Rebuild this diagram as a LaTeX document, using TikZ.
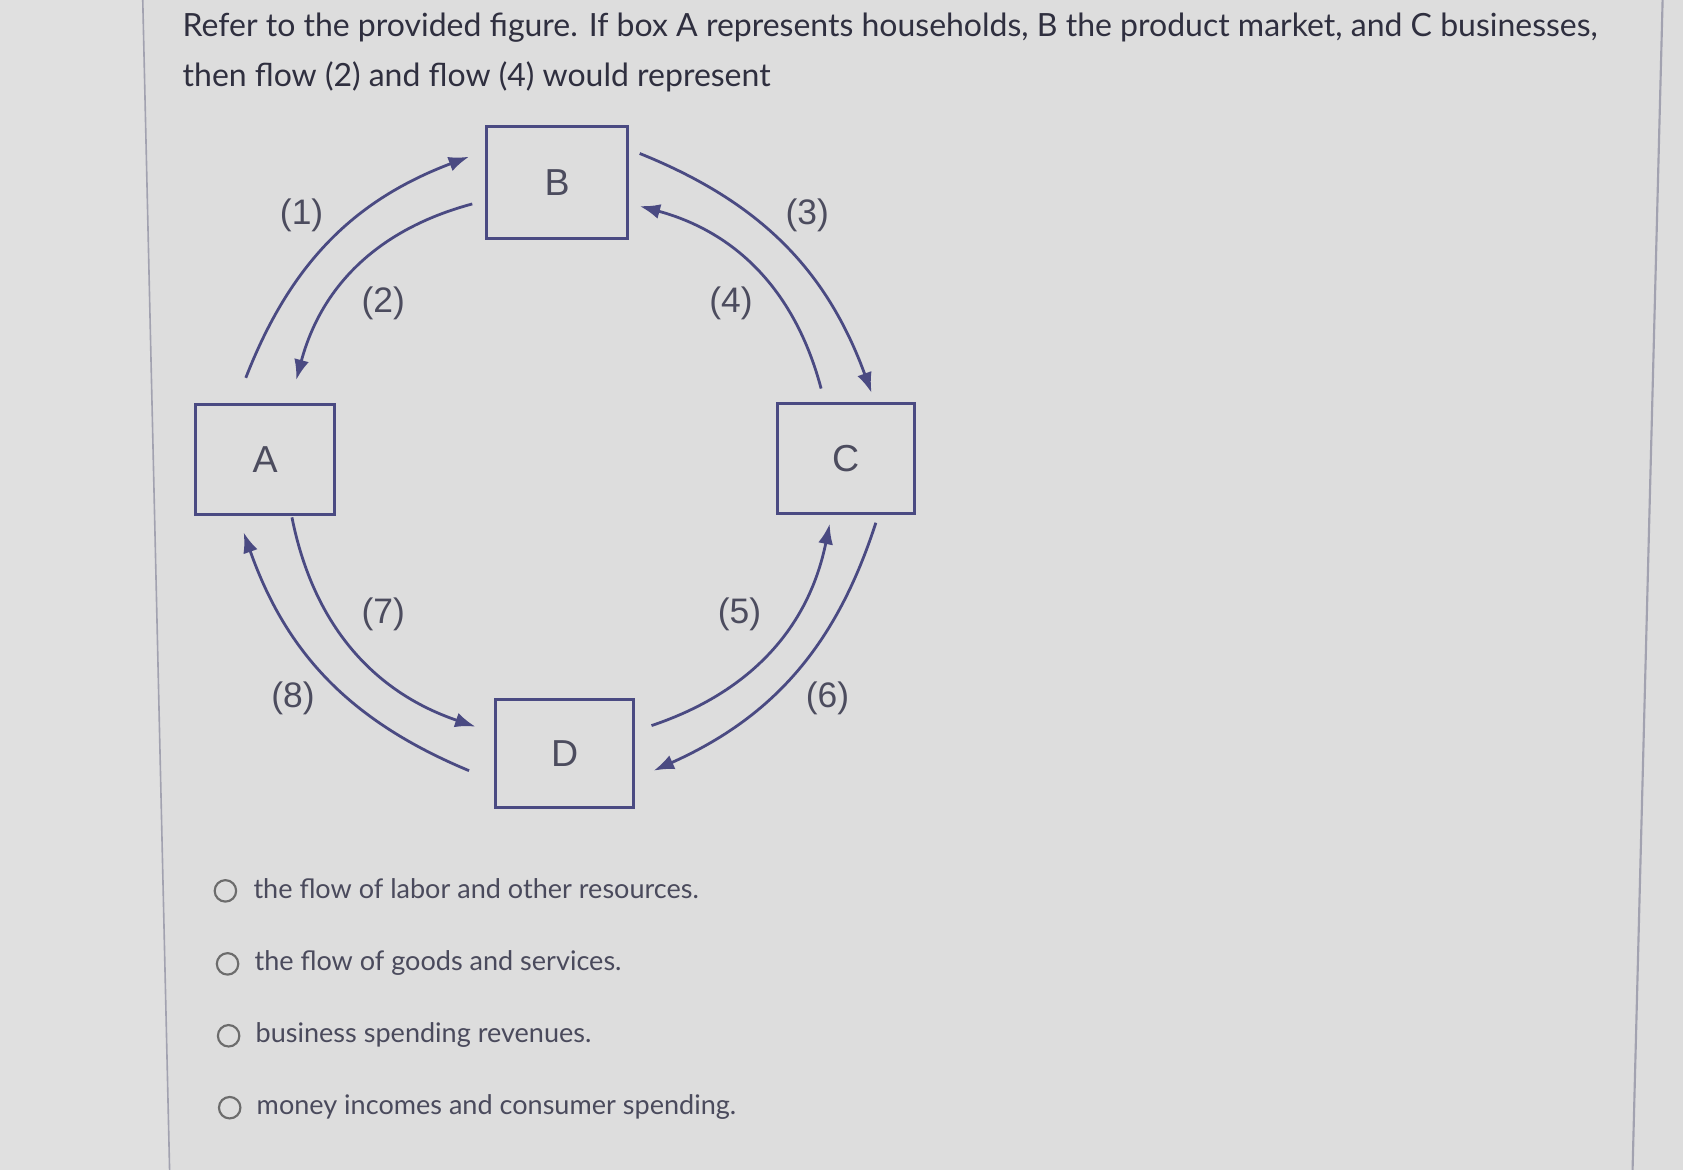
\documentclass[tikz,border=0pt]{standalone}
\usepackage{fontspec}
\setmainfont{Lato}
\newfontfamily\arialf{Liberation Sans}
\usetikzlibrary{arrows.meta}
\definecolor{bg}{HTML}{DDDDDD}
\definecolor{bgleft}{HTML}{E0E0E0}
\definecolor{ink}{HTML}{2F2F3F}
\definecolor{optink}{HTML}{4A4A5C}
\definecolor{lineblue}{HTML}{4A4A82}
\definecolor{lblink}{HTML}{4C4C5E}
\definecolor{rule}{HTML}{A2A2B0}
\tikzset{
  boxnode/.style={draw=lineblue, line width=2.8pt, minimum width=130pt, minimum height=103pt, inner sep=0pt, font=\arialf\fontsize{35}{35}\selectfont, text=lblink},
  flow/.style={draw=lineblue, line width=2.6pt, -{Latex[length=19pt,width=14pt]}},
  lbl/.style={font=\arialf\fontsize{33}{33}\selectfont, text=lblink, inner sep=0pt},
  title/.style={font=\fontsize{29.8}{34}\selectfont, text=ink, anchor=base west, inner sep=0pt},
  opt/.style={font=\fontsize{25.2}{29}\selectfont, text=optink, anchor=base west, inner sep=0pt},
  radio/.style={circle, draw=gray!85!black, line width=2pt, minimum size=20pt, inner sep=0pt}
}
\begin{document}
\begin{tikzpicture}[x=1pt,y=-1pt]
\fill[bg] (0,0) rectangle (1568,1090);
\useasboundingbox (0,0) rectangle (1568,1090);
\fill[bgleft] (0,0) -- (133,0) -- (158,1090) -- (0,1090) -- cycle;
\draw[rule, line width=1.5pt] (133,0) -- (158,1090);
\draw[rule, line width=2pt] (1549,0) -- (1521,1090);

% title
\node[title] (t1) at (170,34) {Refer to the provided figure. If box A represents households, B the product market, and C businesses,};
\node[title] (t2) at (170,81) {then flow (2) and flow (4) would represent};

% boxes
\node[boxnode, minimum width=132pt, minimum height=105pt] (B) at (519,170) {B};
\node[boxnode] (A) at (247,428) {A};
\node[boxnode, minimum width=128pt, minimum height=102pt] (C) at (788,427) {C};
\node[boxnode, minimum width=128pt, minimum height=100pt] (D) at (526,702) {D};

% arrow end points
\coordinate (s1) at (229,352); \coordinate (e1) at (437,146);
\coordinate (s2) at (440,190); \coordinate (e2) at (276,354);
\coordinate (s3) at (596,143); \coordinate (e3) at (812,366);
\coordinate (s4) at (765,362); \coordinate (e4) at (596,192);
\coordinate (s5) at (607,676); \coordinate (e5) at (773,488);
\coordinate (s6) at (816,487); \coordinate (e6) at (609,718);
\coordinate (s7) at (272,482); \coordinate (e7) at (443,677);
\coordinate (s8) at (437,718); \coordinate (e8) at (227,496);

\draw[flow] (s1) to[bend left=24] (e1);
\draw[flow] (s2) to[bend right=30] (e2);
\draw[flow] (s3) to[bend left=24] (e3);
\draw[flow] (s4) to[bend right=30] (e4);
\draw[flow] (s5) to[bend right=30] (e5);
\draw[flow] (s6) to[bend left=24] (e6);
\draw[flow] (s7) to[bend right=30] (e7);
\draw[flow] (s8) to[bend left=24] (e8);

% labels
\node[lbl] (l1) at (281,201) {(1)};
\node[lbl] (l2) at (357,283) {(2)};
\node[lbl] (l3) at (752,201) {(3)};
\node[lbl] (l4) at (681,283) {(4)};
\node[lbl] (l5) at (689,572) {(5)};
\node[lbl] (l6) at (771,651) {(6)};
\node[lbl] (l7) at (357,572) {(7)};
\node[lbl] (l8) at (273,651) {(8)};

% options
\node[radio] (r1) at (210,830) {};
\node[radio] (r2) at (212,898) {};
\node[radio] (r3) at (213,965) {};
\node[radio] (r4) at (214,1032) {};
\node[opt] (o1) at (236,837) {the flow of labor and other resources.};
\node[opt] (o2) at (237,904) {the flow of goods and services.};
\node[opt] (o3) at (238,971) {business spending revenues.};
\node[opt] (o4) at (239,1038) {money incomes and consumer spending.};
\end{tikzpicture}
\end{document}
